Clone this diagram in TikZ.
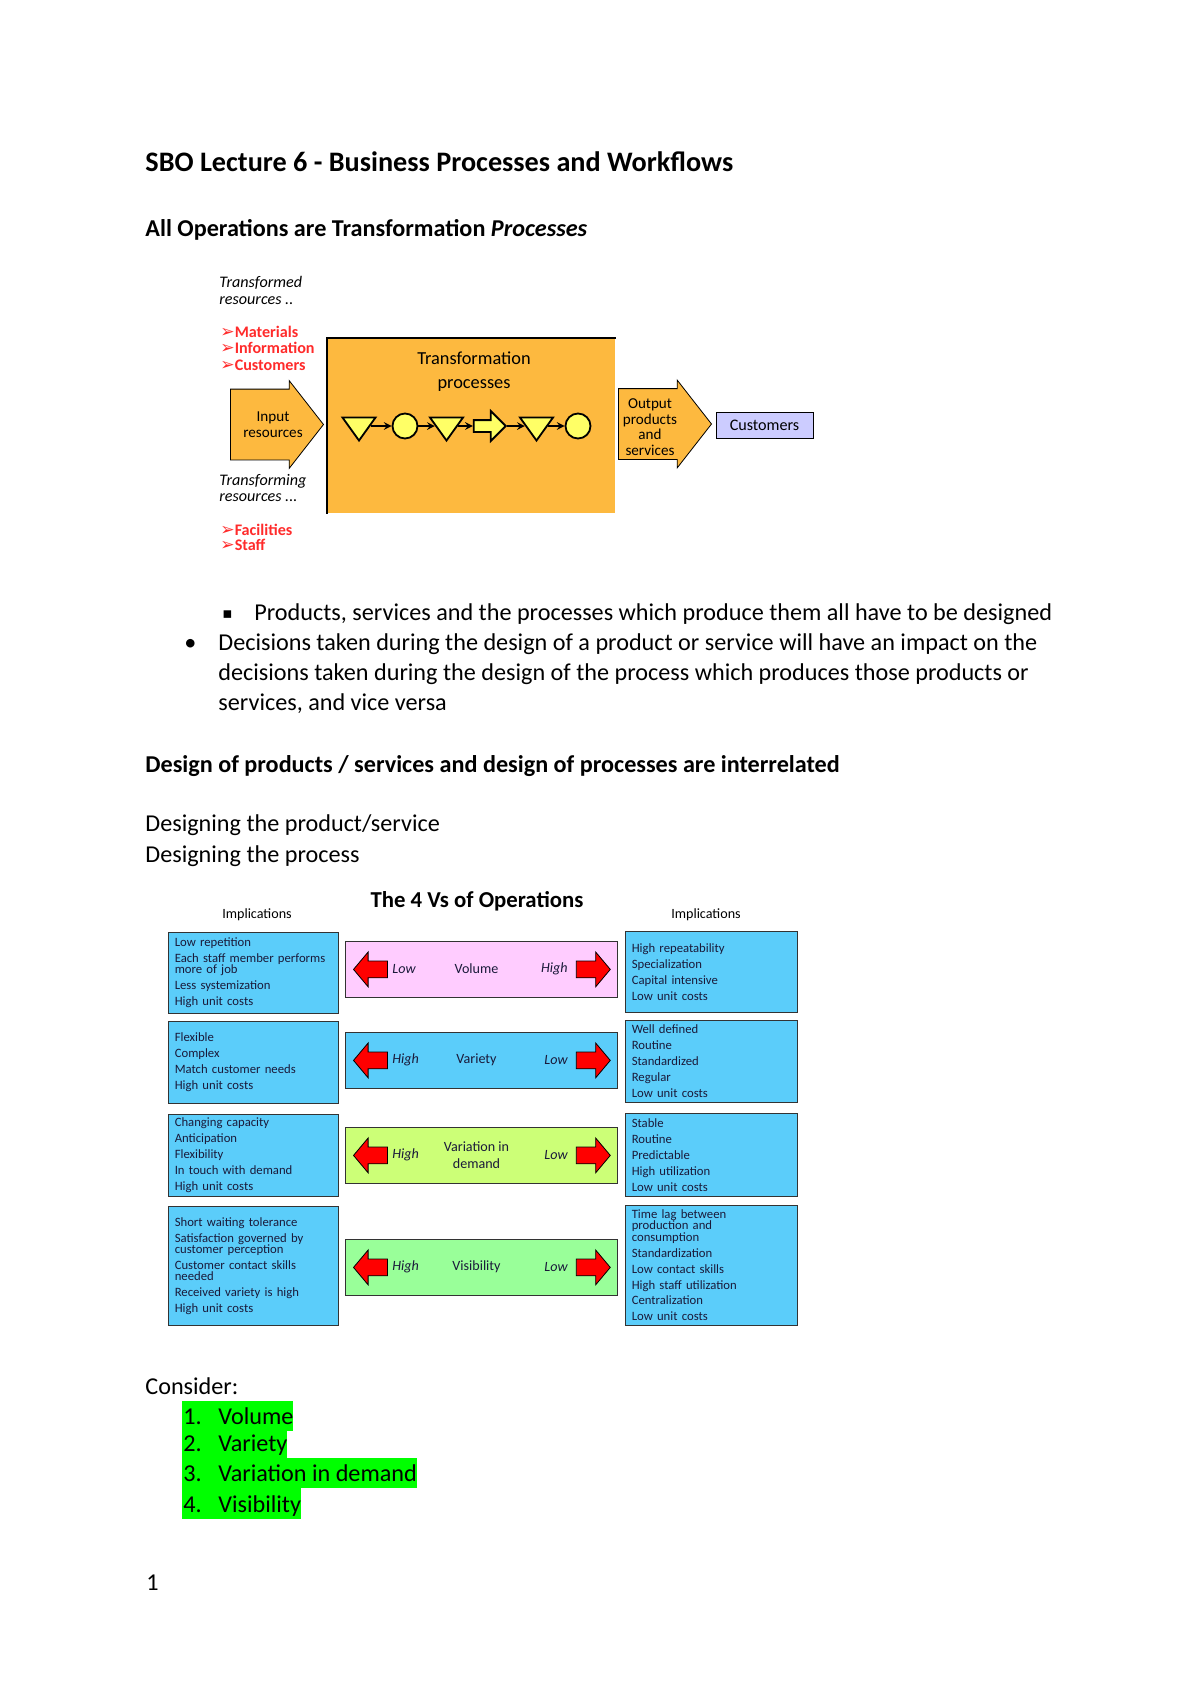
\documentclass[tikz,border=0pt]{standalone}
\usepackage{fontspec}
\setmainfont{Carlito}
\newfontfamily\dejavu{DejaVu Sans}
\usetikzlibrary{shapes.arrows, shapes.geometric, positioning}

\definecolor{procorange}{HTML}{FDB93F}
\definecolor{symyellow}{HTML}{FFFF66}
\definecolor{custlav}{HTML}{CCCCFF}
\definecolor{resred}{HTML}{FF2B2B}
\definecolor{vblue}{HTML}{5BCDFA}
\definecolor{vpink}{HTML}{FFCCFF}
\definecolor{vlime}{HTML}{CCFF77}
\definecolor{vgreen}{HTML}{99FF99}
\definecolor{hlgreen}{HTML}{00FF00}
\definecolor{navytext}{HTML}{1A1A3A}

% one pixel of the page
\newcommand{\pxu}{0.4961pt}
\newcommand{\itemgap}{2.3pt}

\begin{document}
\begin{tikzpicture}[x=\pxu, y=-\pxu, >=stealth,
	txt/.style={anchor=base west, inner sep=0pt, font=\fontsize{12}{14}\selectfont},
	hdg/.style={anchor=base west, inner sep=0pt, font=\fontsize{12}{14}\selectfont\bfseries},
	reslbl/.style={anchor=base west, inner sep=0pt, font=\fontsize{8}{9}\selectfont\itshape},
	resitem/.style={anchor=base west, inner sep=0pt, text=resred, font=\fontsize{8}{9}\selectfont\bfseries},
	bigarrow/.style={draw, fill=procorange, single arrow, single arrow head extend=8.5*\pxu,
		single arrow tip angle=104, minimum height=93*\pxu, inner xsep=0pt, inner ysep=35*\pxu, anchor=tip},
	arrtxt/.style={align=center, inner sep=0pt, font=\fontsize{7.5}{8}\selectfont},
	sym/.style={draw, fill=symyellow, line width=0.9pt, inner sep=0pt},
	tri/.style={sym, isosceles triangle, isosceles triangle stretches, shape border rotate=270,
		minimum width=33*\pxu, minimum height=23*\pxu},
	circ/.style={sym, circle, minimum size=25*\pxu},
	link/.style={->, line width=0.7pt},
	vbox/.style={draw=black!80, fill=vblue, anchor=north west, align=left, inner xsep=3pt, inner ysep=0pt,
		text=navytext, font=\fontsize{6.3}{5.6}\selectfont},
	vbar/.style={draw=black!80, anchor=north west, minimum width=272*\pxu, minimum height=56*\pxu, inner sep=0pt},
	redarr/.style={draw, fill=red, single arrow, single arrow head extend=9*\pxu, single arrow tip angle=100,
		minimum height=34*\pxu, inner xsep=0pt, inner ysep=8*\pxu, anchor=tip},
	barlbl/.style={inner sep=0pt, text=navytext, font=\fontsize{7}{8}\selectfont},
	]
	% page
	\fill[white] (0,0) rectangle (1200,1698);
	\useasboundingbox (0,0) rectangle (1200,1698);
	% headings
	\node[txt, font=\fontsize{14}{16}\selectfont\bfseries] (title) at (145,171)
	{SBO Lecture 6 - Business Processes and Workflows};
	\node[hdg] (allops) at (145,236) {All Operations are Transformation \textit{Processes}};
	% transformation box
	\node[fill=procorange, minimum width=288*\pxu, minimum height=175*\pxu, anchor=north west, inner sep=0pt]
	(proc) at (327,338) {};
	\draw[line width=0.6pt] (proc.south west) -- (proc.north west) -- (proc.north east);
	\node[arrtxt, font=\fontsize{9.1}{11.8}\selectfont] (proctxt) at (474,372) {Transformation\\processes};
	% transformed resources
	\node[reslbl] (tfd1) at (219,287) {Transformed};
	\node[reslbl] (tfd2) at (219,304) {resources ..};
	\foreach \i/\yy/\nm in {1/337/Materials, 2/353/Information, 3/370/Customers}
	\node[resitem] (tfdi\i) at (220,\yy) {{\dejavu\fontsize{8.5}{9}\selectfont ➢}\nm};
	% transforming resources
	\node[reslbl] (tfg1) at (219,485) {Transforming};
	\node[reslbl] (tfg2) at (219,501) {resources ...};
	\foreach \i/\yy/\nm in {1/535/Facilities, 2/550/Staff}
	\node[resitem] (tfgi\i) at (220,\yy) {{\dejavu\fontsize{8.5}{9}\selectfont ➢}\nm};
	% input and output
	\node[bigarrow] (inres) at (324,424.5) {};
	\node[arrtxt] (intxt) at (273,425) {Input\\resources};
	\node[bigarrow] (outres) at (712,424) {};
	\node[arrtxt, font=\fontsize{7.5}{7.7}\selectfont] (outtxt) at (650,427) {Output\\products\\and\\services};
	\node[draw, fill=custlav, minimum width=97*\pxu, minimum height=26*\pxu, inner sep=0pt,
	font=\fontsize{8}{9}\selectfont] (cust) at (764.5,425) {Customers};
	% process symbols
	\node[tri] (t1) at (359,426) {};
	\node[circ] (c1) at (405,426) {};
	\node[tri] (t2) at (446.5,426) {};
	\node[sym, single arrow, single arrow head extend=9*\pxu, single arrow tip angle=90,
	minimum height=32*\pxu, inner xsep=0pt, inner ysep=5*\pxu, anchor=tip] (mv) at (507,426) {};
	\node[tri] (t3) at (536.5,426) {};
	\node[circ] (c2) at (578,426) {};
	\foreach \a/\b in {t1/c1, c1/t2, t2/mv, mv/t3, t3/c2}
	\draw[link] (\a) -- (\b);
	% bullets
	\node[txt, font=\dejavu\fontsize{7.5}{9}\selectfont] (sq) at (222,618) {▪};
	\node[txt] (prod) at (254,620)
	{Products, services and the processes which produce them all have to be designed};
	\node[txt] (dot) at (184,650) {•};
	\foreach \i/\yy/\ln in {
		1/650/{Decisions taken during the design of a product or service will have an impact on the},
		2/680/{decisions taken during the design of the process which produces those products or},
		3/710/{services, and vice versa}}
	\node[txt] (dec\i) at (218,\yy) {\ln};
	% design headings
	\node[hdg] (interrel) at (145,772)
	{Design of products / services and design of processes are interrelated};
	\node[txt] (dprod) at (145,831) {Designing the product/service};
	\node[txt] (dproc) at (145,862) {Designing the process};
	% the 4 Vs
	\node[anchor=base, inner sep=0pt, font=\fontsize{11.3}{13}\selectfont\bfseries] (vtitle) at (477,907)
	{The 4 Vs of Operations};
	\node[anchor=base, inner sep=0pt, font=\fontsize{7}{8}\selectfont] (implL) at (257,918) {Implications};
	\node[anchor=base, inner sep=0pt, font=\fontsize{7}{8}\selectfont] (implR) at (706,918) {Implications};
	% left implications
	\foreach \n/\ya/\yb/\txt in {
		1/932/1013/{Low repetition\\[\itemgap]Each staff member performs\\more of job\\[\itemgap]Less systemization\\[\itemgap]High unit costs},
		2/1021/1103/{Flexible\\[\itemgap]Complex\\[\itemgap]Match customer needs\\[\itemgap]High unit costs},
		3/1114/1196/{Changing capacity\\[\itemgap]Anticipation\\[\itemgap]Flexibility\\[\itemgap]In touch with demand\\[\itemgap]High unit costs},
		4/1206/1325/{Short waiting tolerance\\[\itemgap]Satisfaction governed by\\customer perception\\[\itemgap]Customer contact skills\\needed\\[\itemgap]Received variety is high\\[\itemgap]High unit costs}}
	\node[vbox, minimum width=170*\pxu, text width=78pt, minimum height={(\yb-\ya)*\pxu}] (left\n) at (168,\ya) {\txt};
	% right implications
	\foreach \n/\ya/\yb/\txt in {
		1/931/1012/{High repeatability\\[\itemgap]Specialization\\[\itemgap]Capital intensive\\[\itemgap]Low unit costs},
		2/1020/1102/{Well defined\\[\itemgap]Routine\\[\itemgap]Standardized\\[\itemgap]Regular\\[\itemgap]Low unit costs},
		3/1113/1196/{Stable\\[\itemgap]Routine\\[\itemgap]Predictable\\[\itemgap]High utilization\\[\itemgap]Low unit costs},
		4/1205/1325/{Time lag between\\production and\\consumption\\[\itemgap]Standardization\\[\itemgap]Low contact skills\\[\itemgap]High staff utilization\\[\itemgap]Centralization\\[\itemgap]Low unit costs}}
	\node[vbox, minimum width=172*\pxu, text width=79pt, minimum height={(\yb-\ya)*\pxu}] (right\n) at (625,\ya) {\txt};
	% the four bars
	\foreach \n/\ya/\col/\lft/\vname/\rgt in {
		1/941/vpink/Low/Volume/High,
		2/1032/vblue/High/Variety/Low,
		3/1127/vlime/High/{Variation in\\demand}/Low,
		4/1239/vgreen/High/Visibility/Low} {
		\node[vbar, fill=\col] (bar\n) at (345,\ya) {};
		\node[redarr, shape border rotate=180] (la\n) at ([xshift=8*\pxu]bar\n.west) {};
		\node[redarr] (ra\n) at ([xshift=-7*\pxu]bar\n.east) {};
		\node[barlbl, font=\fontsize{7}{8}\selectfont\itshape, anchor=west] (lt\n) at (392,\ya+28) {\lft};
		\node[barlbl, align=center, font=\fontsize{7}{8.5}\selectfont] (vn\n) at (476.5,\ya+28) {\vname};
		\node[barlbl, font=\fontsize{7}{8}\selectfont\itshape, anchor=east] (rt\n) at (568,\ya+28) {\rgt};
	}
	% consider list
	\node[txt] (consider) at (145,1394) {Consider:};
	\foreach \i/\ya/\yb/\xe/\entry in {
		1/1401/1431/293/Volume,
		2/1431/1458/287/Variety,
		3/1458/1488/417/Variation in demand,
		4/1488/1519/301/Visibility} {
		\fill[hlgreen] (182,\ya) rectangle (\xe,\yb);
		\node[txt] (num\i) at (183,\yb-7) {\i.};
		\node[txt] (entry\i) at (218,\yb-7) {\entry};
	}
	% page number
	\node[txt] (pageno) at (146,1590) {1};
\end{tikzpicture}
\end{document}
